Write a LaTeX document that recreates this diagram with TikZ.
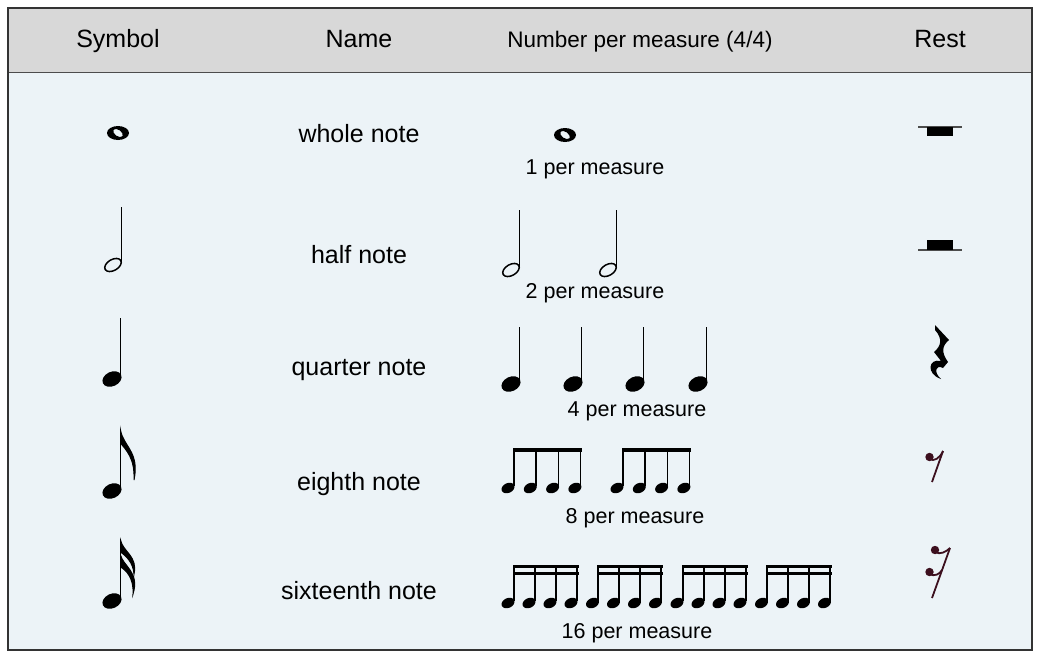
\documentclass[tikz,border=0pt]{standalone}
\usepackage{fontspec}
\setmainfont{Liberation Sans}
\begin{document}
\begin{tikzpicture}[x=1pt,y=-1pt,
  stem/.style={line width=1.6pt},
  lbl/.style={font=\fontsize{25}{28}\selectfont,anchor=base},
  hdr/.style={font=\fontsize{25}{28}\selectfont,anchor=base},
  per/.style={font=\fontsize{21.5}{24}\selectfont,anchor=base}]
\newcommand\fhead[3]{\fill[rotate around={25:(#1,#2)}] (#1,#2) ellipse [x radius=#3, y radius=0.72*#3];}
\newcommand\hhead[2]{\draw[line width=1.5pt,rotate around={30:(#1,#2)}] (#1,#2) ellipse [x radius=9, y radius=5.5];}
\newcommand\qn[4]{\fhead{#1}{#2}{#4}\draw[stem] (#1+0.85*#4,#2-2) -- (#1+0.85*#4,#3);}
\newcommand\hn[3]{\hhead{#1}{#2}\draw[line width=1.4pt] (#1+8.2,#2-2) -- (#1+8.2,#3);}
\newcommand\wn[2]{\fill[even odd rule] (#1,#2) ellipse [x radius=11, y radius=7] [rotate around={-35:(#1,#2)}] (#1,#2) ellipse [x radius=5.5, y radius=3.2];}
\useasboundingbox (0,0) rectangle (1040,656);
\fill[white] (0,0) rectangle (1040,656);
\fill[fill={rgb,255:red,236;green,243;blue,247}] (8,8) rectangle (1032,650);
\fill[fill={rgb,255:red,216;green,216;blue,216}] (8,8) rectangle (1032,72);
\draw[line width=1pt,black!70] (8,72) -- (1032,72);
\draw[line width=1.8pt,black!80] (8,8) rectangle (1032,650);
% header
\node[hdr] (h1) at (118,47) {Symbol};
\node[hdr] (h2) at (359,47) {Name};
\node[hdr,font=\fontsize{22.5}{26}\selectfont] (h3) at (640,47) {Number per measure (4/4)};
\node[hdr] (h4) at (940,47) {Rest};
% names
\node[lbl] (n1) at (359,142) {whole note};
\node[lbl] (n2) at (359,263) {half note};
\node[lbl] (n3) at (359,375) {quarter note};
\node[lbl] (n4) at (359,490) {eighth note};
\node[lbl] (n5) at (359,599) {sixteenth note};
\node[per] (p1) at (595,174) {1 per measure};
\node[per] (p2) at (595,298) {2 per measure};
\node[per] (p3) at (637,416) {4 per measure};
\node[per] (p4) at (635,523) {8 per measure};
\node[per] (p5) at (637,638) {16 per measure};
% symbol column
\wn{118}{133}
\hn{113}{265}{207}
\qn{112}{379}{318}{10}
\qn{112}{491}{430}{10}
\draw[line width=1pt,fill=black] (120.5,430) .. controls (123,446) and (140,452) .. (134,480) .. controls (135,458) and (126,450) .. (120.5,443) -- cycle;
\qn{112}{601}{540}{10}
\draw[line width=1pt,fill=black] (120.5,540) .. controls (123,552) and (138,556) .. (134,574) .. controls (133,562) and (126,556) .. (120.5,552) -- cycle;
\draw[line width=1pt,fill=black] (120.5,555) .. controls (123,566) and (140,572) .. (133,594) .. controls (134,578) and (126,570) .. (120.5,567) -- cycle;
% number column
\wn{565}{135}
\hn{511}{270}{210}
\hn{608}{270}{210}
\foreach \x in {511,573,635,698} {\qn{\x}{384}{327}{10}}
\foreach \g in {508,617} {
  \foreach \i in {0,1,2,3} {\qn{\g+\i*22.3}{488}{450}{6.8}}
  \draw[line width=3.5pt] (\g+5,450) -- (\g+73.7,450);
}
\foreach \g in {508,592.5,677,761.5} {
  \foreach \i in {0,1,2,3} {\qn{\g+\i*21}{603}{565}{6.8}}
  \draw[line width=3pt] (\g+5,566) -- (\g+70.6,566);
  \draw[line width=3pt] (\g+5,573) -- (\g+70.6,573);
}
% rests
\draw[line width=1.2pt,black!70] (918,127) -- (962,127);
\fill (927,127) rectangle (953,136);
\draw[line width=1.2pt,black!70] (918,250) -- (962,250);
\fill (927,240) rectangle (953,250);
\fill (935,325) -- (949,340) .. controls (942,346) and (941,352) .. (948,362)
  -- (943,368) .. controls (936,364) and (933,372) .. (941,379)
  .. controls (926,374) and (928,358) .. (941,361)
  -- (934,352) .. controls (941,346) and (943,339) .. (935,330) -- cycle;
\definecolor{maroon}{RGB}{60,15,30}
\fill[maroon] (929.5,457) circle (4.2);
\draw[maroon,line width=1.8pt] (943,451) -- (932,482);
\draw[maroon,line width=1.8pt] (929.5,459) .. controls (934,462) and (940,458) .. (943,451);
\fill[maroon] (935,550) circle (4.2);
\fill[maroon] (929.5,572) circle (4.2);
\draw[maroon,line width=1.8pt] (950,548) -- (932,598);
\draw[maroon,line width=1.8pt] (935,552) .. controls (940,555) and (946,552) .. (950,548);
\draw[maroon,line width=1.8pt] (929.5,574) .. controls (934,577) and (940,574) .. (942,570);
\end{tikzpicture}
\end{document}
